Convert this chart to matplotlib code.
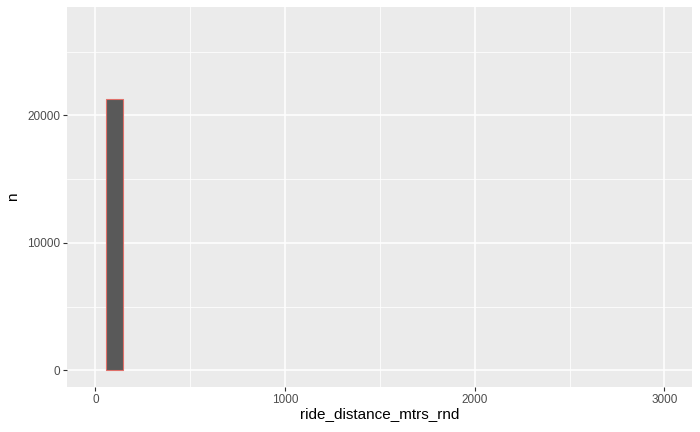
import matplotlib
matplotlib.use("Agg")
import matplotlib.pyplot as plt
from matplotlib.ticker import MultipleLocator

plt.rcParams['font.family'] = ['Liberation Sans', 'DejaVu Sans']

# data (one visible bar)
bar_x = [103]
bar_n = [21300]
bar_width = 90
x_ticks = [0, 1000, 2000, 3000]
y_ticks = [0, 10000, 20000]

fig = plt.figure(figsize=(7, 4.32), dpi=100)
ax = fig.add_axes([0.0961, 0.1049, 0.892, 0.8796])

ax.set_facecolor('#EBEBEB')
ax.bar(bar_x, bar_n, width=bar_width, color='#595959', edgecolor='#E0706A',
       linewidth=0.8, zorder=3)

ax.set_xlim(-148, 3144)
ax.set_ylim(-1286, 28518)
ax.set_xticks(x_ticks)
ax.set_yticks(y_ticks)
ax.xaxis.set_minor_locator(MultipleLocator(500))
ax.yaxis.set_minor_locator(MultipleLocator(5000))

ax.grid(which='major', color='white', linewidth=1.1, zorder=0)
ax.grid(which='minor', color='white', linewidth=0.55, zorder=0)
ax.set_axisbelow(True)

for s in ax.spines.values():
    s.set_visible(False)

ax.tick_params(which='major', length=3, width=0.8, color='#333333',
               labelcolor='#4D4D4D', labelsize=8.5, pad=2)
ax.tick_params(which='minor', length=0)

ax.set_xlabel('ride_distance_mtrs_rnd', fontsize=11, color='black', labelpad=1)
ax.set_ylabel('n', fontsize=11, color='black', labelpad=5)

fig.savefig('out.png', dpi=100)
